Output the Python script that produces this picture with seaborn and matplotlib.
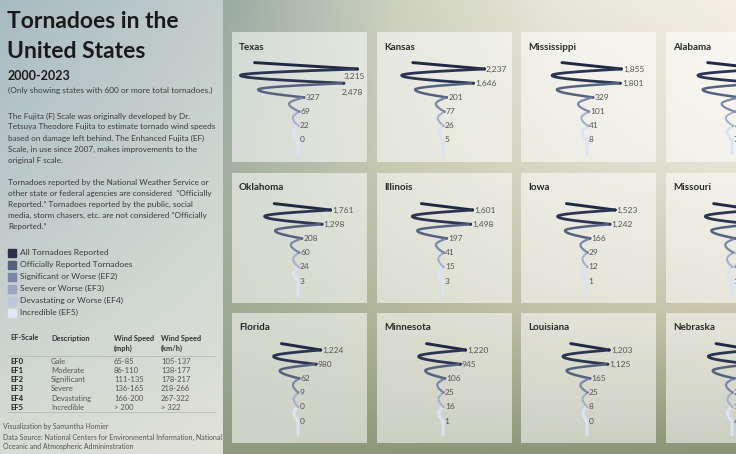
import numpy as np
import pandas as pd
import seaborn as sns
import matplotlib.pyplot as plt
import matplotlib.colors as mcolors
from matplotlib.patches import Rectangle

# tornado counts 2000-2023 per state (row-wise order of the small multiples)
states = ['Texas', 'Kansas', 'Mississippi', 'Alabama',
          'Oklahoma', 'Illinois', 'Iowa', 'Missouri',
          'Florida', 'Minnesota', 'Louisiana', 'Nebraska']
all_reported = [3215, 2237, 1855, 1800, 1761, 1601, 1523, 1360, 1224, 1220, 1203, 1180]
official = [2478, 1646, 1801, 1745, 1298, 1498, 1242, 1150, 980, 945, 1125, 1050]
ef2_plus = [327, 201, 329, 420, 208, 197, 166, 180, 62, 106, 165, 130]
ef3_plus = [69, 77, 101, 140, 60, 41, 29, 64, 9, 25, 25, 25]
ef4_plus = [22, 26, 41, 46, 24, 15, 12, 4, 0, 16, 8, 12]
ef5 = [0, 5, 8, 7, 3, 3, 1, 1, 0, 1, 0, 4]

levels = ['All Tornadoes Reported', 'Officially Reported Tornadoes',
          'Significant or Worse (EF2)', 'Severe or Worse (EF3)',
          'Devastating or Worse (EF4)', 'Incredible (EF5)']
level_colors = ['#28324c', '#56617f', '#7b86a5', '#9aa5c3', '#bcc6de', '#dfe7f8']
# swirl segments run a shade darker than the legend swatches
line_colors = ['#1f2942', '#2b3552', '#56627f', '#7a87a8', '#a4b0cd', '#dbe3f5']
line_widths = [2.1, 2.0, 1.8, 1.6, 1.5, 2.2]

ef_scale = ['EF0', 'EF1', 'EF2', 'EF3', 'EF4', 'EF5']
ef_desc = ['Gale', 'Moderate', 'Significant', 'Severe', 'Devastating', 'Incredible']
ef_mph = ['65-85', '86-110', '111-135', '136-165', '166-200', '> 200']
ef_kmh = ['105-137', '138-177', '178-217', '218-266', '267-322', '> 322']

W, H = 736, 454
K = 54.0  # tornadoes per pixel of swirl width


def swirl(vals):
    # sinusoidal tornado path, swinging out to each level's count
    rows = []
    lefts = [0.9, 0.78, 0.8, 0.8, 0.8]
    x0, y0 = -0.73 * vals[0], 0.55
    for t in np.linspace(0, 1, 20):
        rows.append((x0 + (vals[0] - x0) * t, y0 + (1 - y0) * t, 0))
    for i in range(5):
        r0, r1 = vals[i], vals[i + 1]
        l = -(lefts[i] * vals[i] + 220)
        for t in np.linspace(0, 1, 25):
            rows.append((r0 - (r0 - l) * np.sin(np.pi / 2 * t), i + 1 + 0.45 * t, i + 1))
        for t in np.linspace(0, 1, 25)[1:]:
            rows.append((l + (r1 - l) * (1 - np.cos(np.pi / 2 * t)), i + 1.45 + 0.55 * t, i + 1))
    rows.append((vals[5], 6, 5))
    rows.append((0, 6.95, 5))
    return pd.DataFrame(rows, columns=['x', 'y', 'seg'])


def gradient(colors, t):
    pos = np.linspace(0, 1, len(colors))
    rgb = np.array([mcolors.to_rgb(c) for c in colors])
    return np.stack([np.interp(t, pos, rgb[:, k]) for k in range(3)], axis=-1)


# background
yy, xx = np.mgrid[0:H, 0:W]
s = yy / (H - 1)
t = np.clip((xx - 223) / (W - 223), 0, 1)
grid = [['#99aba3', '#cdd1bf', '#e9e7da', '#f3efe4'],
        ['#a2b0a1', '#c8cab2', '#dbd9c6', '#e6e3d4'],
        ['#9dab93', '#b4b79b', '#c3c3a7', '#c9c8ae'],
        ['#8e9b80', '#8d9878', '#8c9676', '#8a9373']]
rows_rgb = np.stack([gradient(g, t) for g in grid])
spos = [0, 0.37, 0.68, 1]
img = np.zeros((H, W, 3))
for k in range(3):
    for j in range(3):
        m = (s >= spos[j]) & (s <= spos[j + 1])
        f = (s - spos[j]) / (spos[j + 1] - spos[j])
        img[..., k] = np.where(m, rows_rgb[j, ..., k] * (1 - f) + rows_rgb[j + 1, ..., k] * f, img[..., k])
lx = xx / 223
left = (gradient(['#a7bbc2', '#c2cecb'], lx) * (1 - s[..., None]) +
        gradient(['#d8dcd4', '#e1e2da'], lx) * s[..., None])
img = np.where((xx < 223)[..., None], left, img)

sns.set_theme(style='white')
plt.rcParams['font.family'] = ['Lato', 'DejaVu Sans']

fig = plt.figure(figsize=(W / 100, H / 100), dpi=100)
bg = fig.add_axes([0, 0, 1, 1])
bg.imshow(img, extent=[0, W, H, 0], aspect='auto')
bg.set_xlim(0, W)
bg.set_ylim(H, 0)
bg.axis('off')

# left panel text
dark = '#1a1a1a'
body = '#3a3a3a'
bg.text(7, 22, 'Tornadoes in the', fontsize=16.5, weight='bold', color=dark, va='center')
bg.text(7, 51, 'United States', fontsize=16.5, weight='bold', color=dark, va='center')
bg.text(8, 76, '2000-2023', fontsize=9, weight='bold', color=dark, va='center')
bg.text(8, 90, '(Only showing states with 600 or more total tornadoes.)', fontsize=5.95, color=body, va='center')
para1 = ['The Fujita (F) Scale was originally developed by Dr.',
         'Tetsuya Theodore Fujita to estimate tornado wind speeds',
         'based on damage left behind. The Enhanced Fujita (EF)',
         'Scale, in use since 2007, makes improvements to the',
         'original F scale.']
para2 = ['Tornadoes reported by the National Weather Service or',
         'other state or federal agencies are considered  \u201dOfficially',
         'Reported.\u201d Tornadoes reported by the public, social',
         'media, storm chasers, etc. are not considered \u201dOfficially',
         'Reported.\u201d']
for i, line in enumerate(para1):
    bg.text(8, 116 + i * 11, line, fontsize=5.9, color=body, va='center')
for i, line in enumerate(para2):
    bg.text(8, 182 + i * 11.2, line, fontsize=5.9, color=body, va='center')

for i, (lab, c) in enumerate(zip(levels, level_colors)):
    y = 253 + i * 11.9
    bg.add_patch(Rectangle((8, y - 4), 8, 8, color=c))
    bg.text(20, y, lab, fontsize=6.1, color=body, va='center')

cols = [10, 51, 114, 161]
hdr = dict(fontsize=5.3, weight='bold', color='#333', va='center')
bg.text(cols[0], 338, 'EF-Scale', **hdr)
bg.text(cols[1], 338, 'Description', **hdr)
bg.text(cols[2], 338, 'Wind Speed', **hdr)
bg.text(cols[3], 338, 'Wind Speed', **hdr)
bg.text(cols[2], 348, '(mph)', **hdr)
bg.text(cols[3], 348, '(km/h)', **hdr)
bg.plot([8, 216], [356, 356], color='#b8bab4', lw=0.6)
bg.plot([8, 216], [412, 412], color='#b8bab4', lw=0.6)
for i in range(6):
    y = 361 + i * 9.3
    bg.text(cols[0], y, ef_scale[i], fontsize=5.5, weight='bold', color='#222', va='center')
    bg.text(cols[1], y, ef_desc[i], fontsize=5.5, color='#555', va='center')
    bg.text(cols[2], y, ef_mph[i], fontsize=5.5, color='#555', va='center')
    bg.text(cols[3], y, ef_kmh[i], fontsize=5.5, color='#555', va='center')

bg.text(3, 427, 'Visualization by Samantha Homier', fontsize=5, color='#555', va='center')
bg.text(3, 437, 'Data Source: National Centers for Environmental Information, National', fontsize=5, color='#555', va='center')
bg.text(3, 447, 'Oceanic and Atmospheric Admininstration', fontsize=5, color='#555', va='center')

# small multiples
card_x = [232, 377, 521, 666]
card_y = [32, 173, 313]
cw, ch = 135, 130
stem = 66
label_nudge = {('Texas', 0): (-14, 0.55), ('Texas', 1): (-2, 0.62)}
palette = dict(enumerate(line_colors))
sizes = dict(enumerate(line_widths))

for n, st in enumerate(states):
    vals = [all_reported[n], official[n], ef2_plus[n], ef3_plus[n], ef4_plus[n], ef5[n]]
    x0 = card_x[n % 4]
    y0 = card_y[n // 4]
    ax = fig.add_axes([x0 / W, 1 - (y0 + ch) / H, cw / W, ch / H])
    ax.patch.set_facecolor((1, 1, 1, 0.55))
    for sp in ax.spines.values():
        sp.set_visible(False)
    path = swirl(vals)
    sns.lineplot(data=path, x='x', y='y', hue='seg', size='seg', palette=palette,
                 sizes=sizes, sort=False, estimator=None, legend=False, ax=ax)
    ax.scatter(vals, np.arange(1, 7), s=4, color=line_colors, zorder=3, linewidths=0)
    for i, v in enumerate(vals):
        dx, dy = label_nudge.get((st, i), (1.5, 0))
        ax.text(v + dx * K, i + 1 + dy, f'{v:,}', fontsize=6, color='#555555', va='center', ha='left')
    ax.text(7 / cw, 1 - 15 / ch, st, transform=ax.transAxes, fontsize=7.1, weight='bold',
            color='#2a2a2a', va='center')
    ax.set_xlim(-stem * K, (cw - stem) * K)
    ax.set_ylim(1 + (ch - 37) / 14.2, 1 - 37 / 14.2)
    ax.set_xticks([])
    ax.set_yticks([])
    ax.set_xlabel('')
    ax.set_ylabel('')

fig.savefig('out.png', dpi=100)
